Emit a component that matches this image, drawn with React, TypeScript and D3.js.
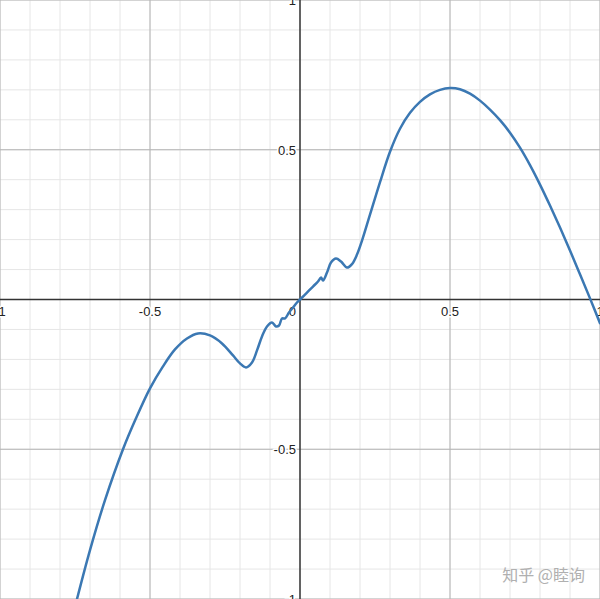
import React from "react";
import * as d3 from "d3";

const W = 600;
const H = 599;

// curve samples (data units)
const curveX = [
  -0.7433, -0.7, -0.65, -0.59, -0.5467, -0.5, -0.4567, -0.4167, -0.3767, -0.34,
  -0.3, -0.26, -0.2233, -0.2, -0.18, -0.16, -0.1433, -0.1267, -0.11, -0.0933,
  -0.08, -0.07, -0.06, -0.05, -0.0367, -0.0233, -0.01, 0, 0.02, 0.0433, 0.06,
  0.07, 0.0767, 0.09, 0.1033, 0.12, 0.1367, 0.1567, 0.1733, 0.19, 0.2067, 0.2333,
  0.2667, 0.3, 0.3333, 0.3667, 0.4, 0.4333, 0.4667, 0.5, 0.5333, 0.5667, 0.6,
  0.6333, 0.6667, 0.7, 0.7333, 0.7667, 0.8, 0.8333, 0.8667, 0.9, 0.9333, 0.9667,
  1.0,
];
const curveY = [
  -1.0, -0.8367, -0.67, -0.5, -0.3967, -0.2967, -0.2233, -0.1667, -0.13, -0.1133,
  -0.12, -0.1467, -0.1867, -0.2133, -0.2267, -0.21, -0.17, -0.1233, -0.09,
  -0.0767, -0.09, -0.0867, -0.0633, -0.0633, -0.0433, -0.0267, -0.01, 0, 0.02,
  0.0433, 0.06, 0.0733, 0.0633, 0.09, 0.1233, 0.1367, 0.1267, 0.1067, 0.1183,
  0.15, 0.1967, 0.2833, 0.3917, 0.4933, 0.57, 0.6233, 0.66, 0.685, 0.7, 0.706,
  0.702, 0.6873, 0.664, 0.634, 0.5987, 0.557, 0.507, 0.4487, 0.3837, 0.3137,
  0.2403, 0.1637, 0.0843, 0.0037, -0.079,
];

const xTickLabels = ["-1", "-0.5", "0.5", "1"];
const yTickLabels = ["-1", "-0.5", "0.5", "1"];
const watermark = "知乎 @睦询";

export default function App() {
  const x = d3.scaleLinear().domain([-1, 1]).range([0, W]);
  const y = d3.scaleLinear().domain([-1, 1]).range([H, 0]);

  const minor = d3.range(-10, 11).map((i) => i / 10);
  const major = [-1, -0.5, 0.5, 1];

  const pts: [number, number][] = curveX.map((v, i) => [v, curveY[i]]);
  const line = d3
    .line<[number, number]>()
    .x((d) => x(d[0]))
    .y((d) => y(d[1]))
    .curve(d3.curveCatmullRom.alpha(0.5));

  const font = "Arial, 'Liberation Sans', sans-serif";
  const halo = {
    paintOrder: "stroke" as const,
    stroke: "#fff",
    strokeWidth: 3,
    strokeLinejoin: "round" as const,
  };

  return (
    <svg
      width={W}
      height={H}
      style={{ position: "fixed", left: 0, top: 0, background: "#fff" }}
    >
      <rect width={W} height={H} fill="#fff" />
      <g>
        {minor.map((v) => (
          <line key={"vx" + v} x1={x(v)} x2={x(v)} y1={0} y2={H} stroke="#e6e6e6" strokeWidth={1} />
        ))}
        {minor.map((v) => (
          <line key={"hy" + v} y1={y(v)} y2={y(v)} x1={0} x2={W} stroke="#e6e6e6" strokeWidth={1} />
        ))}
        {major.map((v) => (
          <line key={"Vx" + v} x1={x(v)} x2={x(v)} y1={0} y2={H} stroke="#b4b4b4" strokeWidth={1} />
        ))}
        {major.map((v) => (
          <line key={"Hy" + v} y1={y(v)} y2={y(v)} x1={0} x2={W} stroke="#b4b4b4" strokeWidth={1} />
        ))}
        <line x1={x(0)} x2={x(0)} y1={0} y2={H} stroke="#333" strokeWidth={1.5} />
        <line y1={y(0)} y2={y(0)} x1={0} x2={W} stroke="#333" strokeWidth={1.5} />
      </g>
      <g fontFamily={font} fontSize={13} fill="#222">
        {major.map((v, i) => (
          <text key={"xl" + v} x={x(v)} y={y(0) + 16} textAnchor="middle" style={halo}>
            {xTickLabels[i]}
          </text>
        ))}
        {major.map((v, i) => (
          <text key={"yl" + v} x={x(0) - 4} y={y(v) + 5} textAnchor="end" style={halo}>
            {yTickLabels[i]}
          </text>
        ))}
        <text x={x(0) - 4} y={y(0) + 16} textAnchor="end" style={halo}>
          0
        </text>
      </g>
      <path d={line(pts) || ""} fill="none" stroke="#3b78b3" strokeWidth={2.5} strokeLinecap="round" />
      <text
        x={585}
        y={581}
        textAnchor="end"
        fontFamily="'Noto Sans CJK SC', sans-serif"
        fontSize={16}
        fill="#b0b0b0"
      >
        {watermark}
      </text>
    </svg>
  );
}
